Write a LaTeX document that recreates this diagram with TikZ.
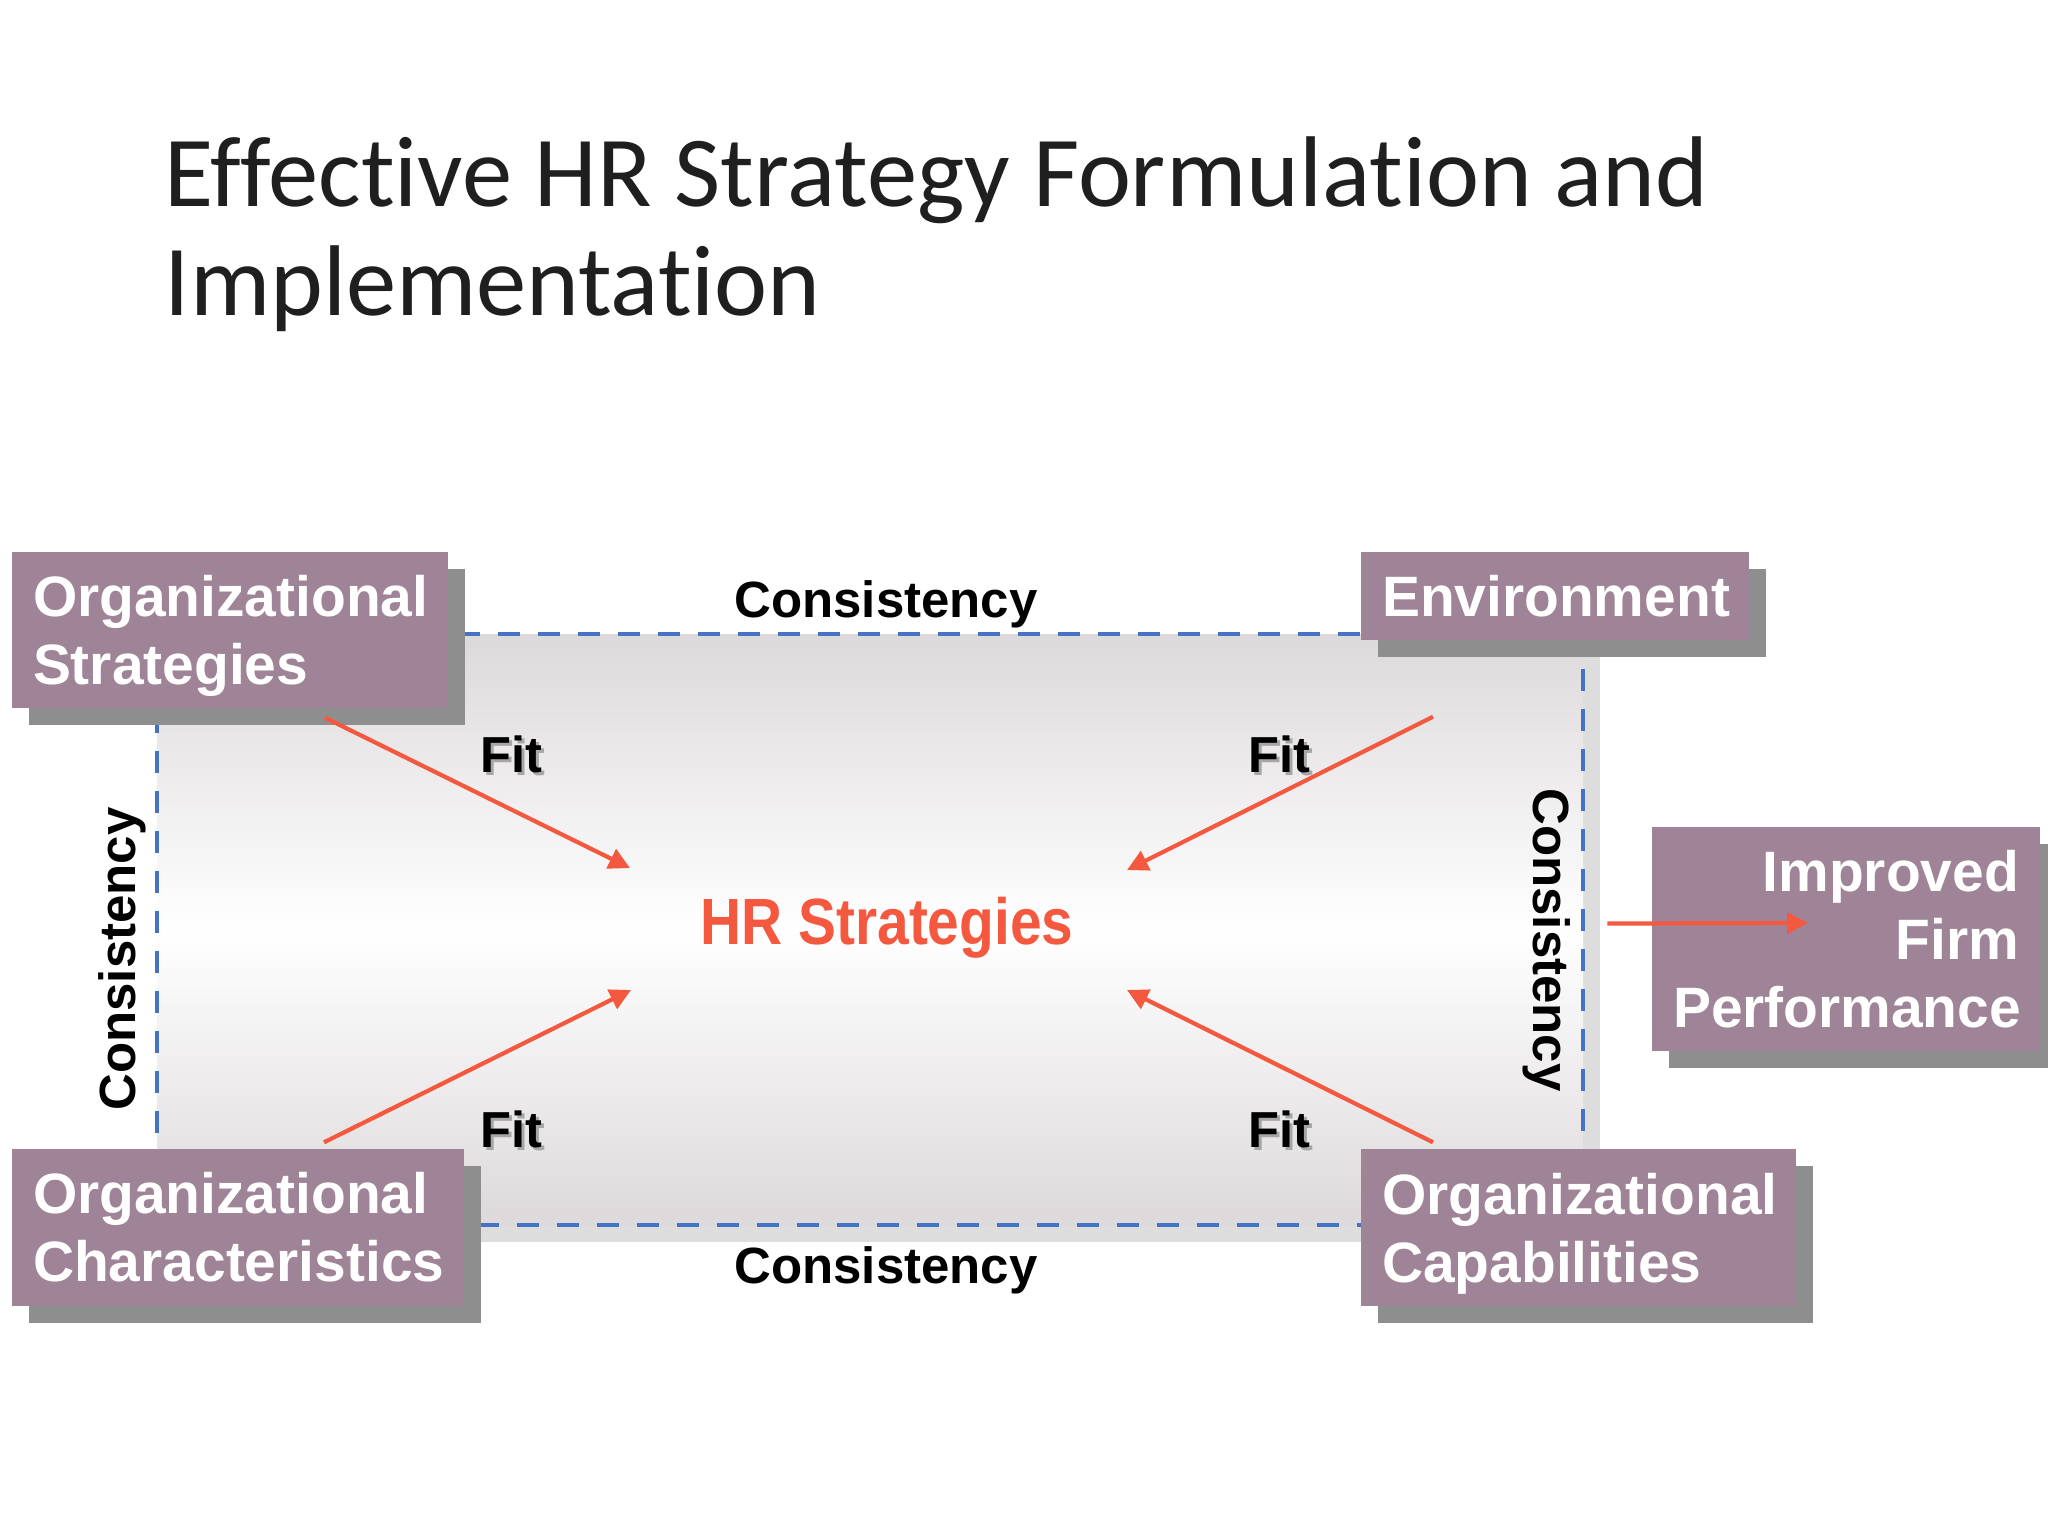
\documentclass[tikz,border=0pt]{standalone}
\usepackage{fontspec}
\setmainfont{Liberation Sans}
\newfontfamily\titlefont[Ligatures=NoCommon]{Carlito}
\usetikzlibrary{arrows.meta,shadows,calc}

\definecolor{mauve}{RGB}{159,131,150}
\definecolor{shadowgray}{RGB}{142,142,142}
\definecolor{framegray}{RGB}{221,217,218}
\definecolor{frameshadow}{RGB}{221,221,221}
\definecolor{framedash}{RGB}{68,114,196}
\definecolor{hrred}{RGB}{244,89,64}

\newcommand{\fitshadow}[1]{\rlap{\kern0.3mm\raisebox{-0.3mm}{\textcolor{black!35}{#1}}}#1}

\begin{document}
\begin{tikzpicture}[x=0.1mm,y=-0.1mm,>={Triangle[length=2.1mm,width=2.1mm]},
    box/.style={fill=mauve,text=white,font=\fontsize{16.2}{19.35}\selectfont\bfseries,inner xsep=2.1mm,inner ysep=0pt,drop shadow={shadow xshift=1.7mm,shadow yshift=-1.7mm,fill=shadowgray,opacity=1}},
    frame/.style={draw=framedash,line width=0.45mm,dash pattern=on 2.2mm off 1.8mm,top color=framegray,bottom color=framegray,middle color=white,drop shadow={shadow xshift=1.7mm,shadow yshift=-1.7mm,fill=frameshadow,opacity=1}},
    consist/.style={font=\fontsize{14.5}{16}\selectfont\bfseries,inner sep=0pt,anchor=base},
    fitlabel/.style={font=\fontsize{14.4}{16}\selectfont\bfseries,inner sep=0pt,anchor=base},
    fitarrow/.style={draw=hrred,line width=0.42mm,->}]

    \fill[white] (0,0) rectangle (2048,1536);
    \useasboundingbox (0,0) rectangle (2048,1536);

    % title
    \node[anchor=base west,align=left,inner sep=0pt,text=black!88,font=\titlefont\fontsize{28.6}{31}\selectfont] (title) at (164,315) {Effective HR Strategy Formulation and\\Implementation};

    % consistency frame
    \node[frame,minimum width=142.6mm,minimum height=59.1mm] (frame) at (870,929.5) {};

    % boxes
    \node[box,minimum width=43.6mm,minimum height=15.6mm,text width=39.4mm,align=left] (orgstrat) at (230,630) {Organizational\\\smash{Strategies}};
    \node[box,minimum width=38.8mm,minimum height=8.8mm,text width=34.6mm,align=left] (env) at (1555,596) {Environment};
    \node[box,minimum width=45.2mm,minimum height=15.7mm,text width=41mm,align=left] (orgchar) at (238,1227.5) {Organizational\\Characteristics};
    \node[box,minimum width=43.5mm,minimum height=15.7mm,text width=39.3mm,align=left] (orgcap) at (1578.5,1227.5) {Organizational\\\smash{Capabilities}};
    \node[box,minimum width=38.8mm,minimum height=22.4mm,text width=34.6mm,align=right] (perf) at (1846,939) {Improved\\Firm\\Performance};

    % centre
    \node[inner sep=0pt,anchor=base,text=hrred,font=\fontsize{18.6}{20}\selectfont\bfseries] (hr) at (887,944) {\scalebox{0.87}[1]{HR Strategies}};

    \coordinate (tipTL) at (630,868);
    \coordinate (tipTR) at (1127,870);
    \coordinate (tipBL) at (631,990);
    \coordinate (tipBR) at (1127,990);
    \coordinate (perftip) at (1808,923);

    \path
        ($(orgstrat.south)+(95,9)$) edge[fitarrow] (tipTL)
        ($(env.south)+(-122,76)$) edge[fitarrow] (tipTR)
        ($(orgchar.north)+(86,-6)$) edge[fitarrow] (tipBL)
        ($(orgcap.north)+(-145.5,-6)$) edge[fitarrow] (tipBR)
        ($(frame.east)+(22,-6)$) edge[fitarrow] (perftip)
        ;

    % labels
    \node[consist] (ctop) at (886,617) {Consistency};
    \node[consist] (cbot) at (886,1283) {Consistency};
    \node[consist,rotate=90] (cleft) at (135,959) {Consistency};
    \node[consist,rotate=-90] (cright) at (1533,940) {Consistency};

    \node[fitlabel] (fitTL) at (511,772) {\fitshadow{Fit}};
    \node[fitlabel] (fitTR) at (1279,772) {\fitshadow{Fit}};
    \node[fitlabel] (fitBL) at (511,1147) {\fitshadow{Fit}};
    \node[fitlabel] (fitBR) at (1279,1147) {\fitshadow{Fit}};
\end{tikzpicture}
\end{document}
